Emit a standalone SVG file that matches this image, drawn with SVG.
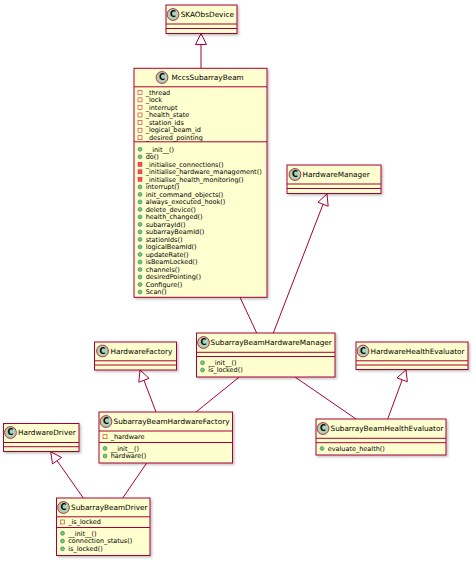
<svg xmlns="http://www.w3.org/2000/svg" width="474" height="561" viewBox="0 0 474 561">
<defs>
<filter id="sh" x="-10%" y="-10%" width="130%" height="130%">
<feDropShadow dx="1.5" dy="1.5" stdDeviation="1" flood-color="#000" flood-opacity="0.25"/>
</filter>
</defs>
<style>
.box{fill:#FEFECE;stroke:#A80036;stroke-width:1;filter:url(#sh)}
.sep{stroke:#A80036;stroke-width:1}
.ci{fill:#ADD1B2;stroke:#A80036;stroke-width:0.8}
.cl{font-family:"DejaVu Sans",sans-serif;font-size:8px;font-weight:bold;text-anchor:middle;fill:#000}
.t{font-family:"DejaVu Sans",sans-serif;font-size:7.3px;fill:#000}
.m{font-family:"DejaVu Sans",sans-serif;font-size:6.5px;fill:#000}
.pub{fill:#84BE84;stroke:#038048;stroke-width:0.5}
.pa{fill:none;stroke:#C82930;stroke-width:0.6}
.pm{fill:#F24D5C;stroke:#C82930;stroke-width:0.5}
.ln{stroke:#A80036;stroke-width:1;fill:none}
.tri{fill:#FFFFFF;stroke:#A80036;stroke-width:1}
</style>

<g id="connectors">
<line class="ln" x1="201" y1="68.3" x2="201" y2="44.5"/>
<polygon class="tri" points="201,33.5 195.5,44.5 206.5,44.5"/>
<line class="ln" x1="273.3" y1="333" x2="323.04" y2="204.26"/>
<polygon class="tri" points="327,194 328.17,206.24 317.91,202.28"/>
<line class="ln" x1="240" y1="297.3" x2="256.7" y2="333"/>
<line class="ln" x1="156" y1="412" x2="143.94" y2="380.27"/>
<polygon class="tri" points="140,370 138.8,382.24 149.08,378.3"/>
<line class="ln" x1="239.3" y1="377" x2="196" y2="412"/>
<line class="ln" x1="295" y1="377" x2="356" y2="419"/>
<line class="ln" x1="387.7" y1="419" x2="402.19" y2="379.82"/>
<polygon class="tri" points="406,369.8 397.03,377.91 407.35,381.73"/>
<line class="ln" x1="83.3" y1="498" x2="57.06" y2="460.67"/>
<polygon class="tri" points="50.7,451.7 52.57,463.85 61.55,457.49"/>
<line class="ln" x1="146.7" y1="463" x2="122.7" y2="498"/>
</g>

<g id="SKAObsDevice">
<rect class="box" x="166" y="5" width="71" height="28.5"/>
<line class="sep" x1="166" y1="24" x2="237" y2="24"/>
<line class="sep" x1="166" y1="28.5" x2="237" y2="28.5"/>
<circle class="ci" cx="173" cy="14.5" r="5.9"/>
<text class="cl" x="173" y="17.4">C</text>
<text class="t" x="180.7" y="17.2">SKAObsDevice</text>
</g>

<g id="MccsSubarrayBeam">
<rect class="box" x="134" y="68.3" width="133" height="229"/>
<line class="sep" x1="134" y1="86.8" x2="267" y2="86.8"/>
<line class="sep" x1="134" y1="141.8" x2="267" y2="141.8"/>
<circle class="ci" cx="162" cy="77.5" r="5.9"/>
<text class="cl" x="162" y="80.4">C</text>
<text class="t" x="171.5" y="80.2">MccsSubarrayBeam</text>
<rect class="pa" x="138" y="90.3" width="4" height="4"/><text class="m" x="145.7" y="94.5">_thread</text>
<rect class="pa" x="138" y="97.9" width="4" height="4"/><text class="m" x="145.7" y="102.1">_lock</text>
<rect class="pa" x="138" y="105.4" width="4" height="4"/><text class="m" x="145.7" y="109.6">_interrupt</text>
<rect class="pa" x="138" y="113" width="4" height="4"/><text class="m" x="145.7" y="117.2">_health_state</text>
<rect class="pa" x="138" y="120.6" width="4" height="4"/><text class="m" x="145.7" y="124.8">_station_ids</text>
<rect class="pa" x="138" y="128.2" width="4" height="4"/><text class="m" x="145.7" y="132.4">_logical_beam_id</text>
<rect class="pa" x="138" y="135.7" width="4" height="4"/><text class="m" x="145.7" y="139.9">_desired_pointing</text>
<circle class="pub" cx="140" cy="149.3" r="2"/><text class="m" x="145.7" y="151.5">__init__()</text>
<circle class="pub" cx="140" cy="156.8" r="2"/><text class="m" x="145.7" y="159">do()</text>
<rect class="pm" x="138" y="162.3" width="4" height="4"/><text class="m" x="145.7" y="166.5">_initialise_connections()</text>
<rect class="pm" x="138" y="169.8" width="4" height="4"/><text class="m" x="145.7" y="174">_initialise_hardware_management()</text>
<rect class="pm" x="138" y="177.3" width="4" height="4"/><text class="m" x="145.7" y="181.5">_initialise_health_monitoring()</text>
<circle class="pub" cx="140" cy="186.9" r="2"/><text class="m" x="145.7" y="189.1">interrupt()</text>
<circle class="pub" cx="140" cy="194.4" r="2"/><text class="m" x="145.7" y="196.6">init_command_objects()</text>
<circle class="pub" cx="140" cy="201.9" r="2"/><text class="m" x="145.7" y="204.1">always_executed_hook()</text>
<circle class="pub" cx="140" cy="209.4" r="2"/><text class="m" x="145.7" y="211.6">delete_device()</text>
<circle class="pub" cx="140" cy="216.9" r="2"/><text class="m" x="145.7" y="219.1">health_changed()</text>
<circle class="pub" cx="140" cy="224.4" r="2"/><text class="m" x="145.7" y="226.6">subarrayId()</text>
<circle class="pub" cx="140" cy="231.9" r="2"/><text class="m" x="145.7" y="234.1">subarrayBeamId()</text>
<circle class="pub" cx="140" cy="239.4" r="2"/><text class="m" x="145.7" y="241.6">stationIds()</text>
<circle class="pub" cx="140" cy="246.9" r="2"/><text class="m" x="145.7" y="249.1">logicalBeamId()</text>
<circle class="pub" cx="140" cy="254.4" r="2"/><text class="m" x="145.7" y="256.6">updateRate()</text>
<circle class="pub" cx="140" cy="262" r="2"/><text class="m" x="145.7" y="264.2">isBeamLocked()</text>
<circle class="pub" cx="140" cy="269.5" r="2"/><text class="m" x="145.7" y="271.7">channels()</text>
<circle class="pub" cx="140" cy="277" r="2"/><text class="m" x="145.7" y="279.2">desiredPointing()</text>
<circle class="pub" cx="140" cy="284.5" r="2"/><text class="m" x="145.7" y="286.7">Configure()</text>
<circle class="pub" cx="140" cy="292" r="2"/><text class="m" x="145.7" y="294.2">Scan()</text>
</g>

<g id="HardwareManager">
<rect class="box" x="287" y="165" width="94" height="28.5"/>
<line class="sep" x1="287" y1="184" x2="381" y2="184"/>
<line class="sep" x1="287" y1="188.5" x2="381" y2="188.5"/>
<circle class="ci" cx="295" cy="174.5" r="5.9"/>
<text class="cl" x="295" y="177.4">C</text>
<text class="t" x="302.5" y="177.2">HardwareManager</text>
</g>

<g id="SubarrayBeamHardwareManager">
<rect class="box" x="196.5" y="333" width="138.5" height="44"/>
<line class="sep" x1="196.5" y1="352.3" x2="335" y2="352.3"/>
<line class="sep" x1="196.5" y1="356.5" x2="335" y2="356.5"/>
<circle class="ci" cx="203.5" cy="342.5" r="5.9"/>
<text class="cl" x="203.5" y="345.4">C</text>
<text class="t" x="210.5" y="345.2">SubarrayBeamHardwareManager</text>
<circle class="pub" cx="202.5" cy="362.7" r="2"/><text class="m" x="208.2" y="364.9">__init__()</text>
<circle class="pub" cx="202.5" cy="370" r="2"/><text class="m" x="208.2" y="372.2">is_locked()</text>
</g>

<g id="HardwareFactory">
<rect class="box" x="94.5" y="342" width="82" height="28"/>
<line class="sep" x1="94.5" y1="360.8" x2="176.5" y2="360.8"/>
<line class="sep" x1="94.5" y1="365" x2="176.5" y2="365"/>
<circle class="ci" cx="102.5" cy="351" r="5.9"/>
<text class="cl" x="102.5" y="353.9">C</text>
<text class="t" x="110.5" y="353.7">HardwareFactory</text>
</g>

<g id="HardwareHealthEvaluator">
<rect class="box" x="356" y="342" width="112" height="27.5"/>
<line class="sep" x1="356" y1="360.8" x2="468" y2="360.8"/>
<line class="sep" x1="356" y1="365" x2="468" y2="365"/>
<circle class="ci" cx="363" cy="351" r="5.9"/>
<text class="cl" x="363" y="353.9">C</text>
<text class="t" x="370.5" y="353.7">HardwareHealthEvaluator</text>
</g>

<g id="SubarrayBeamHardwareFactory">
<rect class="box" x="99" y="412" width="133.5" height="51"/>
<line class="sep" x1="99" y1="431" x2="232.5" y2="431"/>
<line class="sep" x1="99" y1="442.5" x2="232.5" y2="442.5"/>
<circle class="ci" cx="106" cy="421.5" r="5.9"/>
<text class="cl" x="106" y="424.4">C</text>
<text class="t" x="113.5" y="424.2">SubarrayBeamHardwareFactory</text>
<rect class="pa" x="103" y="434.7" width="4" height="4"/><text class="m" x="110.7" y="438.9">_hardware</text>
<circle class="pub" cx="105" cy="448.4" r="2"/><text class="m" x="110.7" y="450.6">__init__()</text>
<circle class="pub" cx="105" cy="456" r="2"/><text class="m" x="110.7" y="458.2">hardware()</text>
</g>

<g id="SubarrayBeamHealthEvaluator">
<rect class="box" x="316" y="419" width="130" height="36"/>
<line class="sep" x1="316" y1="438.3" x2="446" y2="438.3"/>
<line class="sep" x1="316" y1="442.7" x2="446" y2="442.7"/>
<circle class="ci" cx="323" cy="428.5" r="5.9"/>
<text class="cl" x="323" y="431.4">C</text>
<text class="t" x="330.5" y="431.2">SubarrayBeamHealthEvaluator</text>
<circle class="pub" cx="322" cy="448.5" r="2"/><text class="m" x="327.7" y="450.7">evaluate_health()</text>
</g>

<g id="HardwareDriver">
<rect class="box" x="3.5" y="423.5" width="75.5" height="28"/>
<line class="sep" x1="3.5" y1="442.5" x2="79" y2="442.5"/>
<line class="sep" x1="3.5" y1="446.7" x2="79" y2="446.7"/>
<circle class="ci" cx="10.5" cy="432.5" r="5.9"/>
<text class="cl" x="10.5" y="435.4">C</text>
<text class="t" x="18" y="435.2">HardwareDriver</text>
</g>

<g id="SubarrayBeamDriver">
<rect class="box" x="56.5" y="498" width="93.5" height="57.5"/>
<line class="sep" x1="56.5" y1="516.8" x2="150" y2="516.8"/>
<line class="sep" x1="56.5" y1="527.5" x2="150" y2="527.5"/>
<circle class="ci" cx="63.5" cy="507.5" r="5.9"/>
<text class="cl" x="63.5" y="510.4">C</text>
<text class="t" x="71" y="510.2">SubarrayBeamDriver</text>
<rect class="pa" x="60.5" y="520" width="4" height="4"/><text class="m" x="68.2" y="524.2">_is_locked</text>
<circle class="pub" cx="62.5" cy="533.3" r="2"/><text class="m" x="68.2" y="535.5">__init__()</text>
<circle class="pub" cx="62.5" cy="541" r="2"/><text class="m" x="68.2" y="543.2">connection_status()</text>
<circle class="pub" cx="62.5" cy="548.8" r="2"/><text class="m" x="68.2" y="551">is_locked()</text>
</g>
</svg>
